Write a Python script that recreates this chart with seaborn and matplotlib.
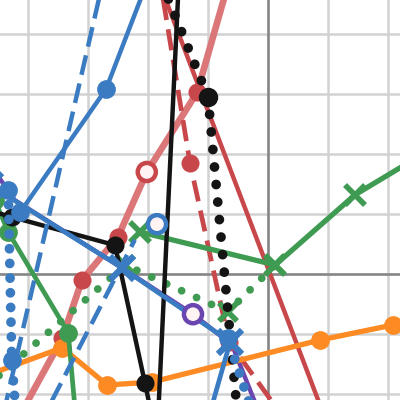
import matplotlib
matplotlib.use("Agg")
import matplotlib.pyplot as plt
import seaborn as sns
import pandas as pd

# ---------------- data (data units) ----------------
blue_solid_x = [-4.13, -2.70, -1.97]
blue_solid_y = [1.03, 3.08, 4.98]

blue_x_x = [-4.63, -2.43, -0.63, -1.05]
blue_x_y = [1.48, 0.10, -1.13, -2.60]

blue_dash_x = [-2.63, -4.97, -2.22]
blue_dash_y = [5.40, -4.77, 0.57]

blue_dot_x = [-4.33, -4.27, -4.13, -0.22, -0.67]
blue_dot_y = [1.40, -1.43, -3.27, -2.43, -1.07]

purple_x = [-4.63, -4.22, -2.43, -1.25, -0.60, -0.10]
purple_y = [1.82, 1.23, 0.10, -0.67, -1.18, -2.43]

red_solid_x = [-1.80, 0.90]
red_solid_y = [4.82, -2.27]

red_dash_x = [-1.80, -1.30, -0.65, 0.53]
red_dash_y = [4.90, 1.85, -1.13, -2.77]

light_red_x = [-4.38, -3.43, -3.10, -2.50, -2.02, -1.18, -0.55]
light_red_y = [-2.80, -1.07, -0.10, 0.62, 1.70, 3.03, 5.23]

black_dot_x = [-1.72, -1.00, -0.50]
black_dot_y = [4.73, 2.95, -2.43]

black_solid_x = [-4.97, -4.27, -2.55, -2.05, -1.85, -1.47]
black_solid_y = [1.15, 0.95, 0.48, -1.82, -2.77, 5.23]

green_circ_x = [-4.55, -4.33, -3.33, -3.20]
green_circ_y = [1.23, 0.70, -0.98, -2.43]

green_x_x = [-2.13, 0.12, 1.45, 2.70]
green_x_y = [0.70, 0.15, 1.32, 2.07]

green_dot_x = [-4.80, -2.38, -0.67, 0.12]
green_dot_y = [-1.97, 0.15, -0.63, 0.15]

orange_x = [-4.80, -3.43, -2.68, -1.93, 0.87, 2.08, 3.20]
orange_y = [-1.73, -1.23, -1.85, -1.80, -1.10, -0.85, -0.63]

open_x = [-2.02, -1.85, -1.25]
open_y = [1.70, 0.83, -0.67]
open_group = ["red", "blue", "purple"]

# ---------------- style ----------------
BLUE = "#3a7bc2"
RED = "#c8474a"
LRED = "#db7779"
GREEN = "#3f9a52"
ORANGE = "#fd8a22"
PURPLE = "#6c46b0"
BLACK = "#141414"

fig = plt.figure(figsize=(4, 4), dpi=100)
ax = fig.add_axes([0, 0, 1, 1])
ax.set_xlim(-268 / 60, 132 / 60)
ax.set_ylim(-126 / 60, 274 / 60)
ax.set_xticks(range(-4, 3))
ax.set_yticks(range(-2, 5))
ax.grid(True, color="#d2d2d2", lw=1.8)
ax.set_axisbelow(True)
ax.axhline(0, color="#858585", lw=1.8, zorder=1)
ax.axvline(0, color="#858585", lw=1.8, zorder=1)
for s in ax.spines.values():
    s.set_visible(False)
ax.tick_params(length=0, labelbottom=False, labelleft=False)


def line(x, y, color, lw=3.2, ls="-", marker=None, ms=13, mew=0, mcolor=None, **kw):
    df = pd.DataFrame({"x": x, "y": y})
    sns.lineplot(data=df, x="x", y="y", sort=False, estimator=None, ax=ax,
                 color=color, lw=lw, linestyle=ls, marker=marker, markersize=ms,
                 markeredgewidth=mew,
                 markeredgecolor=mcolor or color,
                 markerfacecolor=mcolor or color, **kw)


DOT_BIG = (0, (0.01, 1.8))
DOT_GREEN = (0, (0.01, 2.1))

line(light_red_x, light_red_y, LRED, lw=4.8, marker="o", ms=13, mcolor=RED)
line(purple_x, purple_y, PURPLE, lw=3.2)
line(red_solid_x, red_solid_y, RED, lw=3.2)
line(red_dash_x, red_dash_y, RED, lw=3.4, ls=(0, (4.5, 2)), marker="o", ms=13)
line(orange_x, orange_y, ORANGE, lw=3.8, marker="o", ms=13.5)
line(green_dot_x, green_dot_y, GREEN, lw=5.6, ls=DOT_GREEN,
     dash_capstyle="round", marker="x", ms=13, mew=4)
line(green_circ_x, green_circ_y, GREEN, lw=3.4, marker="o", ms=13.5)
line(green_x_x, green_x_y, GREEN, lw=3.8, marker="x", ms=14, mew=4)
line(black_solid_x, black_solid_y, BLACK, lw=3.2, marker="o", ms=13)
line(black_dot_x, black_dot_y, BLACK, lw=7, ls=DOT_BIG,
     dash_capstyle="round", marker="o", ms=14)
line(blue_dash_x, blue_dash_y, BLUE, lw=3.2, ls=(0, (4.5, 2)))
line(blue_dot_x, blue_dot_y, BLUE, lw=7, ls=(0, (0.01, 1.5)),
     dash_capstyle="round", marker="o", ms=13.5)
line(blue_solid_x, blue_solid_y, BLUE, lw=3.2, marker="o", ms=13.5)
line(blue_x_x, blue_x_y, BLUE, lw=3.4, marker="x", ms=17, mew=4.5)

odf = pd.DataFrame({"x": open_x, "y": open_y, "g": open_group})
sns.scatterplot(data=odf, x="x", y="y", hue="g",
                palette={"red": RED, "blue": BLUE, "purple": PURPLE},
                ax=ax, s=170, linewidth=0, legend=False, zorder=5)
coll = ax.collections[-1]
coll.set_facecolor("#fff3f3")
coll.set_edgecolor([RED, BLUE, PURPLE])
coll.set_linewidth(3.2)

ax.set_xlabel("")
ax.set_ylabel("")
ax.set_xlim(-268 / 60, 132 / 60)
ax.set_ylim(-126 / 60, 274 / 60)
fig.savefig("out.png", dpi=100)
